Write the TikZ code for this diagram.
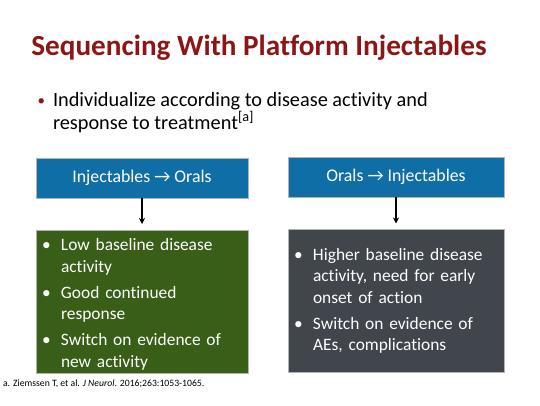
\documentclass[tikz,border=0pt]{standalone}
\usepackage{fontspec}
\setmainfont{Carlito}[Ligatures=NoCommon]
\usetikzlibrary{positioning,arrows.meta}
\definecolor{titlered}{RGB}{140,22,22}
\definecolor{headblue}{RGB}{16,110,166}
\definecolor{leftgreen}{RGB}{56,94,24}
\definecolor{rightgray}{RGB}{64,70,76}
\newcommand{\bitem}[1]{\hangindent=19pt\hangafter=1\rightskip=0pt plus 1fil\hyphenpenalty=10000
  \noindent\makebox[19pt][l]{\textbullet}#1\par}
\newcommand{\bsep}{\vspace{4.5pt}}
\begin{document}
\begin{tikzpicture}[x=1pt,y=-1pt,>={Stealth[length=6pt,width=6pt]},
  headbox/.style={draw=gray!60,line width=0.8pt,fill=headblue,text=white,minimum height=40pt,
    font=\fontsize{17.8}{21}\selectfont,inner sep=0pt},
  listbox/.style={draw=gray!60,line width=0.8pt,text=white,inner xsep=6pt,inner ysep=0pt,
    minimum height=143pt,font=\fontsize{17.4}{21.5}\selectfont,align=left},
  every node/.style={inner sep=0pt,outer sep=0pt}]
  \useasboundingbox (0,0) rectangle (540,405);
  \node[text=titlered,font=\fontsize{29.2}{34}\selectfont\bfseries,anchor=base] (title) at (259,55) {Sequencing With Platform Injectables};
  \node[text=titlered,font=\fontsize{15}{18}\selectfont,anchor=base west] (dot) at (37.5,105) {\textbullet};
  \node[anchor=base west,font=\fontsize{20.3}{22}\selectfont] (intro1) at (53,106)
    {Individualize according to disease activity and};
  \node[anchor=base west,font=\fontsize{20.3}{22}\selectfont] (intro2) at (53,129)
    {response to treatment\textsuperscript{[a]}};
  % left column
  \node[headbox,minimum width=212pt] (inj) at (142,178) {Injectables \char"2192\ Orals};
  \node[listbox,fill=leftgreen,minimum width=212pt,text width=200pt] (low) at (142,301.5)
    {\bitem{\rule{0pt}{18pt}Low baseline disease\newline activity}\bsep
     \bitem{Good continued\newline response}\bsep
     \bitem{Switch on evidence of\newline new activity}};
  % right column
  \node[headbox,minimum width=216pt] (oral) at (396,177) {Orals \char"2192\ Injectables};
  \node[listbox,fill=rightgray,minimum width=216pt,text width=204pt] (high) at (396,301)
    {\bitem{Higher baseline disease\newline activity, need for early\newline onset of action}\bsep
     \bitem{Switch on evidence of\newline AEs, complications}};
  \draw[->,line width=1.2pt,shorten >=6pt] (inj) -- (low);
  \draw[->,line width=1.2pt,shorten >=6pt] (oral) -- (high);
  \node[anchor=base west,font=\fontsize{9.7}{11}\selectfont] (ref) at (3,386)
    {a. Ziemssen T, et al. \textit{J Neurol}. 2016;263:1053-1065.};
\end{tikzpicture}
\end{document}
